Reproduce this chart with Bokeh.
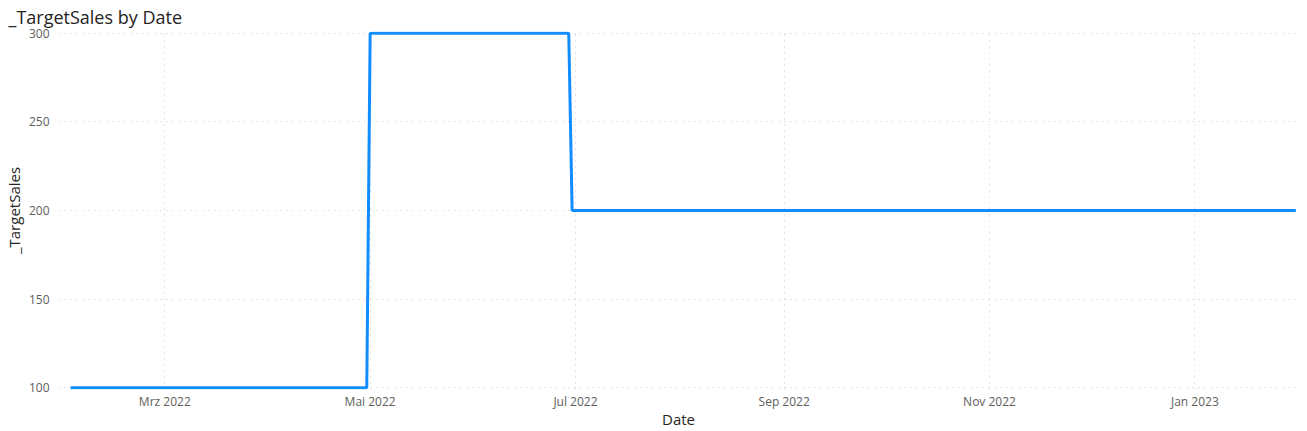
from datetime import datetime
from bokeh.plotting import figure
from bokeh.models import Range1d, FixedTicker, ColumnDataSource
from bokeh.embed import file_html
from bokeh.resources import INLINE

# ---- data ----
dates = ["2022-02-01", "2022-04-30", "2022-05-01", "2022-06-29", "2022-06-30", "2023-01-31"]
target_sales = [100, 100, 300, 300, 200, 200]

x_tick_dates = ["2022-03-01", "2022-05-01", "2022-07-01", "2022-09-01", "2022-11-01", "2023-01-01"]
x_tick_labels = ["Mrz 2022", "Mai 2022", "Jul 2022", "Sep 2022", "Nov 2022", "Jan 2023"]
y_ticks = [100, 150, 200, 250, 300]

def to_dt(s):
    return datetime.strptime(s, "%Y-%m-%d")

def to_ms(s):
    return (to_dt(s) - datetime(1970, 1, 1)).total_seconds() * 1000.0

src = ColumnDataSource(dict(date=[to_dt(d) for d in dates], value=target_sales))

FONT = "Open Sans"

p = figure(
    frame_width=1240, frame_height=358,
    x_axis_type="datetime",
    x_range=Range1d(datetime(2022, 1, 28, 10), datetime(2023, 1, 31, 19)),
    y_range=Range1d(99, 301),
    output_backend="svg", toolbar_location=None,
    title="_TargetSales by Date",
    min_border_left=0, min_border_right=1, min_border_top=0, min_border_bottom=0,
)
p.background_fill_color = "white"
p.border_fill_color = "white"
p.outline_line_color = None

p.title.text_font = FONT
p.title.text_font_size = "18px"
p.title.text_font_style = "normal"
p.title.text_color = "#252423"
p.title.offset = -50
p.title.standoff = 5

p.line("date", "value", source=src, line_color="#118DFF", line_width=3)

# axes
p.xaxis.ticker = FixedTicker(ticks=[to_ms(d) for d in x_tick_dates])
p.xaxis.major_label_overrides = {to_ms(d): lab for d, lab in zip(x_tick_dates, x_tick_labels)}
p.yaxis.ticker = FixedTicker(ticks=y_ticks)

for ax in (p.xaxis[0], p.yaxis[0]):
    ax.axis_line_color = None
    ax.major_tick_line_color = None
    ax.minor_tick_line_color = None
    ax.major_tick_out = 0
    ax.major_tick_in = 0
    ax.minor_tick_out = 0
    ax.minor_tick_in = 0
    ax.major_label_text_font = FONT
    ax.major_label_text_font_size = "12px"
    ax.major_label_text_color = "#605E5C"
    ax.axis_label_text_font = FONT
    ax.axis_label_text_font_size = "15px"
    ax.axis_label_text_font_style = "normal"
    ax.axis_label_text_color = "#252423"

p.xaxis.axis_label = "Date"
p.yaxis.axis_label = "_TargetSales"
p.xaxis.major_label_standoff = 3
p.xaxis.axis_label_standoff = -4
p.yaxis.major_label_standoff = 9
p.yaxis.axis_label_standoff = 2

# grid
for g in (p.xgrid[0], p.ygrid[0]):
    g.grid_line_color = "#C8C8C8"
    g.grid_line_dash = "1 5"
    g.grid_line_width = 1
p.xgrid.ticker = p.xaxis[0].ticker
p.ygrid.ticker = p.yaxis[0].ticker

open("out.html", "w").write(file_html(p, INLINE))
